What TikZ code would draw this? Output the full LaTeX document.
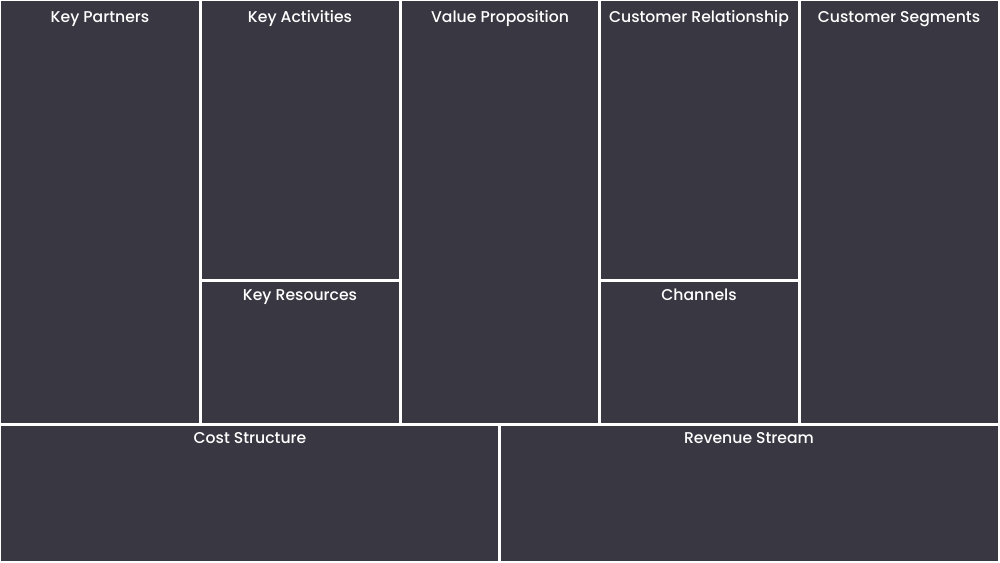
\documentclass[tikz,border=0pt]{standalone}
\usepackage{fontspec}
\setmainfont{Poppins Medium}
\usetikzlibrary{positioning}
\definecolor{canvas}{RGB}{57,56,66}

\begin{document}
\begin{tikzpicture}[x=0.02cm,y=-0.02cm,
  cell/.style={fill=canvas},
  title/.style={text=white,anchor=base,inner sep=0pt,font=\fontsize{8.9}{10}\selectfont}]
\useasboundingbox (0,0) rectangle (1000,563);
\fill[white] (0,0) rectangle (1000,563);
% top row
\fill[cell] (1,1) rectangle (199,423);
\fill[cell] (202,1) rectangle (399,279);
\fill[cell] (202,282) rectangle (399,423);
\fill[cell] (402,1) rectangle (598,423);
\fill[cell] (601,1) rectangle (798,279);
\fill[cell] (601,282) rectangle (798,423);
\fill[cell] (801,1) rectangle (998,423);
% bottom row
\fill[cell] (1,426) rectangle (498,561);
\fill[cell] (501,426) rectangle (998,561);
% labels
\node[title] (partners) at (100,23) {Key Partners};
\node[title] (activities) at (300,23) {Key Activities};
\node[title] (resources) at (300,301) {Key Resources};
\node[title] (value) at (500,23) {Value Proposition};
\node[title] (relation) at (699,23) {Customer Relationship};
\node[title] (channels) at (699,301) {Channels};
\node[title] (segments) at (899,23) {Customer Segments};
\node[title] (cost) at (250,443) {Cost Structure};
\node[title] (revenue) at (749,443) {Revenue Stream};
\end{tikzpicture}
\end{document}
